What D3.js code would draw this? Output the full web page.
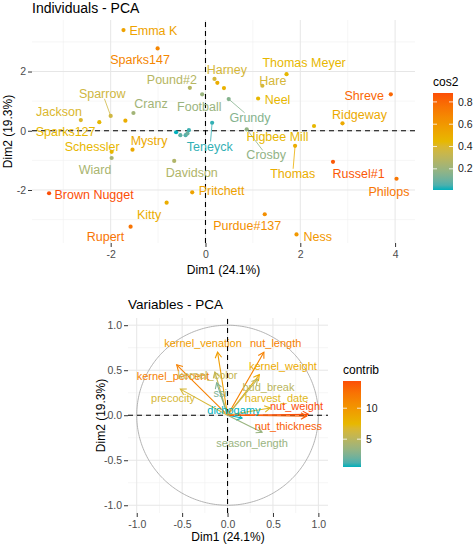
<!DOCTYPE html>
<html>
<head>
<meta charset="utf-8">
<script src="https://cdn.jsdelivr.net/npm/d3@7"></script>
<style>
body { margin: 0; background: #fff; }
text { font-family: "Liberation Sans", Arial, sans-serif; }
</style>
</head>
<body>
<div id="chart"></div>
<script>
// ---- individuals (Dim1, Dim2, cos2) ----
const indNames = ['Emma K', 'Sparks147', 'Pound#2', 'Football', 'Harney', '', '',
  'Thomas Meyer', 'Hare', 'Neel', 'Grundy', 'Shreve', 'Ridgeway', 'Higbee Mill', 'Crosby',
  'Thomas', 'Teneyck', '', '', '', '', '', 'Jackson', 'Sparks127', 'Sparrow', '', 'Cranz',
  'Davidson', 'Wiard', 'Schessler', 'Mystry', 'Brown Nugget', 'Pritchett', 'Kitty', 'Rupert',
  'Purdue#137', 'Ness', 'Russel#1', 'Philops'];
const indDim1 = [-1.73, -1.01, -0.33, -0.07, 0.19, 0.25, 0.39, 1.71, 1.20, 1.11, 0.49, 3.91,
  2.89, 2.29, 0.87, 1.89, 0.14, -0.62, -0.53, -0.42, -0.38, -0.35, -2.63, -2.24, -2.00, -1.69,
  -1.52, -0.66, -1.98, -1.98, -1.54, -3.30, -0.28, -0.82, -1.58, 1.25, 1.92, 2.69, 4.03];
const indDim2 = [3.40, 2.78, 1.45, 1.23, 1.75, 1.62, 1.44, 1.91, 1.52, 1.09, 1.07, 1.23,
  0.25, 0.16, 0.05, -0.51, 0.27, -0.05, -0.15, -0.15, -0.09, 0.02, 0.36, 0.29, 0.50, 0.34,
  0.60, -1.02, -0.92, -0.71, -0.64, -2.11, -2.08, -2.43, -3.24, -2.82, -3.50, -1.05, -1.62];
const indCos2 = [0.55, 0.68, 0.28, 0.20, 0.38, 0.50, 0.48, 0.45, 0.38, 0.45, 0.15, 0.80,
  0.52, 0.45, 0.18, 0.50, 0.03, 0.01, 0.08, 0.06, 0.10, 0.04, 0.40, 0.45, 0.36, 0.50,
  0.22, 0.26, 0.24, 0.45, 0.52, 0.88, 0.55, 0.50, 0.75, 0.64, 0.60, 0.85, 0.74];
// where the repelled labels ended up (data units)
const indLabelDim1 = [-1.10, -1.38, -0.71, -0.13, 0.45, 0, 0, 2.08, 1.42, 1.52, 0.94, 3.35,
  3.25, 1.52, 1.28, 1.84, 0.09, 0, 0, 0, 0, 0, -3.09, -2.95, -2.18, 0, -1.15, -0.29, -2.33,
  -2.39, -1.19, -2.35, 0.34, -1.19, -2.11, 0.88, 2.37, 3.23, 3.87];
const indLabelDim2 = [3.38, 2.39, 1.74, 0.83, 2.05, 0, 0, 2.30, 1.69, 1.06, 0.45, 1.17,
  0.55, -0.20, -0.82, -1.44, -0.52, 0, 0, 0, 0, 0, 0.64, -0.03, 1.26, 0, 0.90, -1.41, -1.30,
  -0.54, -0.35, -2.17, -2.01, -2.82, -3.58, -3.22, -3.58, -1.44, -2.06];
const indXTicks = [-2, 0, 2, 4];
const indYTicks = [-2, 0, 2];
const cos2Ticks = [0.2, 0.4, 0.6, 0.8];

// ---- variables (Dim1, Dim2, contrib) ----
const varNames = ['kernel_venation', 'nut_length', 'kernel_weight', 'kernel_percent',
  'kernel_color', 'ssi', 'bud_break', 'harvest_date', 'precocity', 'dichogamy',
  'nut_weight', 'nut_thickness', 'season_length'];
const varDim1 = [-0.11, 0.40, 0.35, -0.56, -0.14, -0.12, 0.33, 0.47, -0.52, 0.16, 0.89, 0.87, 0.38];
const varDim2 = [0.70, 0.70, 0.45, 0.56, 0.48, 0.36, 0.40, 0.08, 0.29, -0.03, 0.01, -0.01, -0.19];
const varContrib = [9.5, 11.5, 8.5, 11.5, 5.5, 2.5, 5.0, 7.0, 6.5, 0.5, 14.4, 13.5, 3.5];
const varLabelDim1 = [-0.27, 0.53, 0.61, -0.60, -0.22, -0.08, 0.45, 0.54, -0.60, 0.07, 0.76, 0.67, 0.27];
const varLabelDim2 = [0.80, 0.80, 0.54, 0.43, 0.44, 0.25, 0.31, 0.19, 0.19, 0.06, 0.10, -0.12, -0.31];
const varTicks = [-1.0, -0.5, 0.0, 0.5, 1.0];
const contribTicks = [5, 10];

const gradientCols = ['#00AFBB', '#E7B800', '#FC4E07'];

const svg = d3.select('#chart').append('svg')
  .attr('width', 474).attr('height', 548);

function gradScale(vals) {
  const lo = d3.min(vals), hi = d3.max(vals);
  return d3.scaleLinear().domain([lo, (lo + hi) / 2, hi]).range(gradientCols).interpolate(d3.interpolateLab);
}

function grid(g, x, y, xMajor, xMinor, yMajor, yMinor) {
  const [x0, x1] = x.range(), [y0, y1] = y.range();
  g.selectAll(null).data(xMinor).enter().append('line')
    .attr('x1', d => x(d)).attr('x2', d => x(d)).attr('y1', y0).attr('y2', y1)
    .attr('stroke', '#F0F0F0').attr('stroke-width', 0.6);
  g.selectAll(null).data(yMinor).enter().append('line')
    .attr('y1', d => y(d)).attr('y2', d => y(d)).attr('x1', x0).attr('x2', x1)
    .attr('stroke', '#F0F0F0').attr('stroke-width', 0.6);
  g.selectAll(null).data(xMajor).enter().append('line')
    .attr('x1', d => x(d)).attr('x2', d => x(d)).attr('y1', y0).attr('y2', y1)
    .attr('stroke', '#E6E6E6').attr('stroke-width', 1);
  g.selectAll(null).data(yMajor).enter().append('line')
    .attr('y1', d => y(d)).attr('y2', d => y(d)).attr('x1', x0).attr('x2', x1)
    .attr('stroke', '#E6E6E6').attr('stroke-width', 1);
}

function axes(g, x, y, xt, yt, fmt, pad) {
  const bx = g.append('g').attr('transform', `translate(0,${y.range()[0]})`)
    .call(d3.axisBottom(x).tickValues(xt).tickSize(4).tickPadding(pad).tickFormat(fmt));
  const ly = g.append('g').attr('transform', `translate(${x.range()[0]},0)`)
    .call(d3.axisLeft(y).tickValues(yt).tickSize(4).tickPadding(2).tickFormat(fmt));
  [bx, ly].forEach(a => {
    a.select('.domain').remove();
    a.selectAll('line').attr('stroke', '#333').attr('stroke-width', 1);
    a.selectAll('text').attr('fill', '#4D4D4D').style('font-size', '10.5px')
      .style('font-family', '"Liberation Sans", Arial, sans-serif');
  });
}

function zeroLines(g, x, y) {
  g.append('line').attr('x1', x(0)).attr('x2', x(0)).attr('y1', y.range()[0]).attr('y2', y.range()[1])
    .attr('stroke', '#000').attr('stroke-width', 1.1).attr('stroke-dasharray', '5,4');
  g.append('line').attr('y1', y(0)).attr('y2', y(0)).attr('x1', x.range()[0]).attr('x2', x.range()[1])
    .attr('stroke', '#000').attr('stroke-width', 1.1).attr('stroke-dasharray', '5,4');
}

function colorbar(id, scale, vals, ticks, x0, yTop, yBot, w, title, fmt) {
  const lo = d3.min(vals), hi = d3.max(vals);
  const ly = d3.scaleLinear().domain([lo, hi]).range([yBot, yTop]);
  const grad = svg.append('defs').append('linearGradient').attr('id', id)
    .attr('x1', 0).attr('y1', 1).attr('x2', 0).attr('y2', 0);
  d3.range(0, 1.0001, 0.05).forEach(t => {
    grad.append('stop').attr('offset', t).attr('stop-color', scale(lo + t * (hi - lo)));
  });
  svg.append('text').attr('x', x0).attr('y', yTop - 7).style('font-size', '12px').attr('fill', '#000').text(title);
  svg.append('rect').attr('x', x0).attr('y', yTop).attr('width', w).attr('height', yBot - yTop)
    .attr('fill', `url(#${id})`);
  ticks.forEach(t => {
    svg.append('line').attr('x1', x0).attr('x2', x0 + 4).attr('y1', ly(t)).attr('y2', ly(t))
      .attr('stroke', '#fff').attr('stroke-width', 0.8);
    svg.append('line').attr('x1', x0 + w - 4).attr('x2', x0 + w).attr('y1', ly(t)).attr('y2', ly(t))
      .attr('stroke', '#fff').attr('stroke-width', 0.8);
    svg.append('text').attr('x', x0 + w + 5).attr('y', ly(t)).attr('dy', '0.35em')
      .style('font-size', '10.5px').attr('fill', '#1a1a1a').text(fmt(t));
  });
}

// ================= Individuals - PCA =================
const ind = indNames.map((n, i) => ({
  name: n, x: indDim1[i], y: indDim2[i], cos2: indCos2[i], lx: indLabelDim1[i], ly: indLabelDim2[i]
}));
const xI = d3.scaleLinear().domain([-3.66, 4.42]).range([32, 415]);
const yI = d3.scaleLinear().domain([-3.79, 3.74]).range([243, 20]);
const cI = gradScale(indCos2);
const gI = svg.append('g');

grid(gI, xI, yI, [-2, 0, 2, 4], [-3, -1, 1, 3], [-2, 0, 2], [-3, -1, 1, 3]);
axes(gI, xI, yI, indXTicks, indYTicks, d => String(d), 4);
zeroLines(gI, xI, yI);

svg.append('text').attr('x', 32).attr('y', 12.5).style('font-size', '14px').attr('fill', '#000')
  .text('Individuals - PCA');
svg.append('text').attr('x', 223.5).attr('y', 274).attr('text-anchor', 'middle')
  .style('font-size', '12px').attr('fill', '#000').text('Dim1 (24.1%)');
svg.append('text').attr('transform', 'translate(12,131.5) rotate(-90)').attr('text-anchor', 'middle')
  .style('font-size', '12px').attr('fill', '#000').text('Dim2 (19.3%)');

const segG = gI.append('g');
gI.selectAll('.ind-dot').data(ind).enter().append('circle')
  .attr('class', 'ind-dot')
  .attr('cx', d => xI(d.x)).attr('cy', d => yI(d.y)).attr('r', 2.1)
  .attr('fill', d => cI(d.cos2));

gI.selectAll('.ind-label').data(ind.filter(d => d.name)).enter().append('text')
  .attr('class', 'ind-label')
  .attr('x', d => xI(d.lx)).attr('y', d => yI(d.ly)).attr('dy', '0.35em')
  .attr('text-anchor', 'middle')
  .style('font-size', '12.5px')
  .attr('fill', d => cI(d.cos2))
  .text(d => d.name)
  .each(function(d) {
    // repel-style segment when the label sits away from its point
    const b = this.getBBox();
    const px = xI(d.x), py = yI(d.y);
    const nx = Math.max(b.x, Math.min(px, b.x + b.width));
    const ny = Math.max(b.y + 2, Math.min(py, b.y + b.height - 2));
    if (Math.hypot(px - nx, py - ny) > 10) {
      const cx = b.x + b.width / 2, cy = b.y + b.height / 2;
      const dx = cx - px, dy = cy - py;
      let t = 1;
      if (dx !== 0) {
        const edge = dx > 0 ? b.x : b.x + b.width;
        const tt = (edge - px) / dx;
        const yy = py + tt * dy;
        if (tt > 0 && yy >= b.y && yy <= b.y + b.height) t = Math.min(t, tt);
      }
      if (dy !== 0) {
        const edge = dy > 0 ? b.y + 2 : b.y + b.height - 2;
        const tt = (edge - py) / dy;
        const xx = px + tt * dx;
        if (tt > 0 && xx >= b.x && xx <= b.x + b.width) t = Math.min(t, tt);
      }
      segG.append('line').attr('x1', px).attr('y1', py)
        .attr('x2', px + t * dx).attr('y2', py + t * dy)
        .attr('stroke', cI(d.cos2)).attr('stroke-width', 0.8);
    }
  });

colorbar('gradCos2', cI, indCos2, cos2Ticks, 433, 93, 190, 20, 'cos2', d => d.toFixed(1));

// ================= Variables - PCA =================
const vars = varNames.map((n, i) => ({
  name: n, x: varDim1[i], y: varDim2[i], contrib: varContrib[i], lx: varLabelDim1[i], ly: varLabelDim2[i]
}));
const xV = d3.scaleLinear().domain([-1.096, 1.106]).range([128, 328]);
const yV = d3.scaleLinear().domain([-1.086, 1.08]).range([513, 318]);
const cV = gradScale(varContrib);
const gV = svg.append('g');

grid(gV, xV, yV, varTicks, [-0.75, -0.25, 0.25, 0.75], varTicks, [-0.75, -0.25, 0.25, 0.75]);
axes(gV, xV, yV, varTicks, varTicks, d => d.toFixed(1), 4);

// correlation circle
const circ = d3.line().x(a => xV(Math.cos(a))).y(a => yV(Math.sin(a)));
gV.append('path').datum(d3.range(0, 2 * Math.PI + 0.01, 0.02))
  .attr('d', circ).attr('fill', 'none').attr('stroke', '#AAAAAA').attr('stroke-width', 0.9);

zeroLines(gV, xV, yV);

svg.append('text').attr('x', 128).attr('y', 309).style('font-size', '13.5px').attr('fill', '#000')
  .text('Variables - PCA');
svg.append('text').attr('x', 228).attr('y', 541).attr('text-anchor', 'middle')
  .style('font-size', '12px').attr('fill', '#000').text('Dim1 (24.1%)');
svg.append('text').attr('transform', 'translate(105,415.5) rotate(-90)').attr('text-anchor', 'middle')
  .style('font-size', '12px').attr('fill', '#000').text('Dim2 (19.3%)');

const arrows = gV.selectAll('.var-arrow').data(vars).enter().append('g').attr('class', 'var-arrow');
arrows.append('line')
  .attr('x1', xV(0)).attr('y1', yV(0))
  .attr('x2', d => xV(d.x)).attr('y2', d => yV(d.y))
  .attr('stroke', d => cV(d.contrib)).attr('stroke-width', 1.1);
arrows.append('path')
  .attr('d', d => {
    const x1 = xV(d.x), y1 = yV(d.y);
    const ang = Math.atan2(y1 - yV(0), x1 - xV(0));
    const L = 6.5, sp = Math.PI / 6;
    const a = [x1 - L * Math.cos(ang - sp), y1 - L * Math.sin(ang - sp)];
    const b = [x1 - L * Math.cos(ang + sp), y1 - L * Math.sin(ang + sp)];
    return `M${a[0]},${a[1]}L${x1},${y1}L${b[0]},${b[1]}`;
  })
  .attr('fill', 'none').attr('stroke', d => cV(d.contrib)).attr('stroke-width', 1.1);

gV.selectAll('.var-label').data(vars).enter().append('text')
  .attr('class', 'var-label')
  .attr('x', d => xV(d.lx)).attr('y', d => yV(d.ly)).attr('dy', '0.35em')
  .attr('text-anchor', 'middle')
  .style('font-size', '11px')
  .attr('fill', d => cV(d.contrib))
  .text(d => d.name);

colorbar('gradContrib', cV, varContrib, contribTicks, 343, 381, 467, 18, 'contrib', d => String(d));
</script>
</body>
</html>
